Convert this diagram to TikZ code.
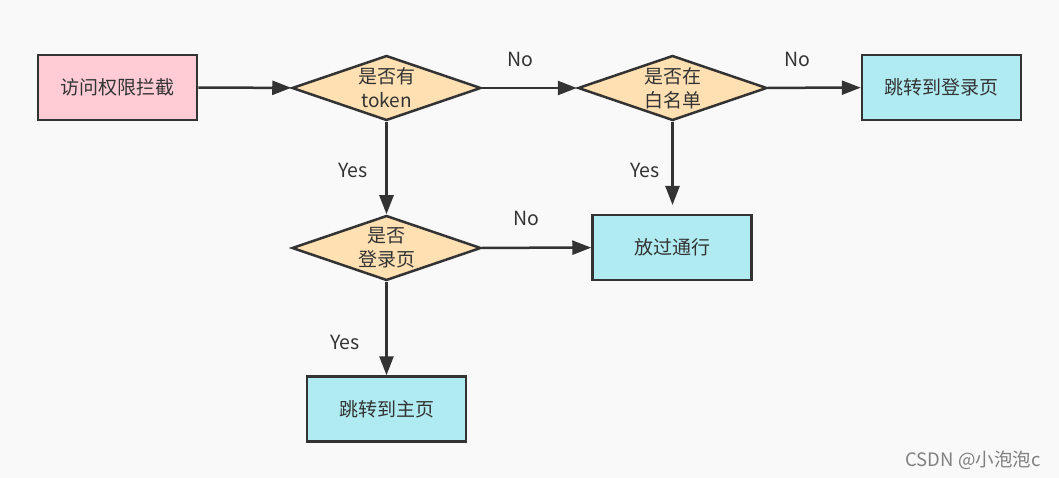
\documentclass[tikz,border=0pt]{standalone}
\usepackage{fontspec}
\setmainfont{Noto Sans CJK SC}
\usetikzlibrary{shapes.geometric,arrows.meta}
\definecolor{bg}{HTML}{F9F9F9}
\definecolor{ln}{HTML}{333333}
\definecolor{pinkf}{HTML}{FFCCD5}
\definecolor{orf}{HTML}{FFE0B3}
\definecolor{cyf}{HTML}{B1EBF2}
\tikzset{
  box/.style={draw=ln, line width=2.5pt, minimum width=159pt, minimum height=65pt, inner sep=0pt, font=\fontsize{19}{22}\selectfont, text=ln},
  dia/.style={draw=ln, fill=orf, line width=2.5pt, diamond, aspect=2.9, minimum width=189pt, minimum height=65pt, inner sep=0pt, font=\fontsize{19}{22}\selectfont, text=ln, align=center},
  conn/.style={draw=ln, line width=2.5pt, -{Triangle[length=19pt,width=14pt]}},
  lbl/.style={text=ln, font=\fontsize{19.5}{22}\selectfont},
}
\begin{document}
\begin{tikzpicture}[x=1pt,y=-1pt]
\fill[bg] (0,0) rectangle (1059,478);
\useasboundingbox (0,0) rectangle (1059,478);
\node[box, fill=pinkf] (start) at (117.5,87.5) {访问权限拦截};
\node[dia] (tok) at (386.5,88) {是否有\\[2pt]token};
\node[dia] (white) at (672.5,88) {是否在\\[2pt]白名单};
\node[box, fill=cyf] (login) at (941.5,87.5) {跳转到登录页};
\node[dia] (islogin) at (386.5,248) {是否\\[2pt]登录页};
\node[box, fill=cyf] (pass) at (672,247.5) {放过通行};
\node[box, fill=cyf] (home) at (386.5,409) {跳转到主页};
\coordinate (wend) at (672.5,205);
\draw[conn] (start) -- (tok);
\draw[conn] (tok) -- (white);
\draw[conn] (white) -- (login);
\draw[conn] (tok) -- (islogin);
\draw[conn] (white.south) -- (wend);
\draw[conn] (islogin) -- (pass);
\draw[conn] (islogin) -- (home);
\node[lbl] (l1) at (520,59) {No};
\node[lbl] (l2) at (797,59) {No};
\node[lbl] (l3) at (353,170) {Yes};
\node[lbl] (l4) at (645,170) {Yes};
\node[lbl] (l5) at (526,218) {No};
\node[lbl] (l6) at (345,342) {Yes};
\node[text=black!50, font=\fontsize{18.5}{22}\selectfont] (wm) at (973,460) {CSDN @小泡泡c};
\end{tikzpicture}
\end{document}
